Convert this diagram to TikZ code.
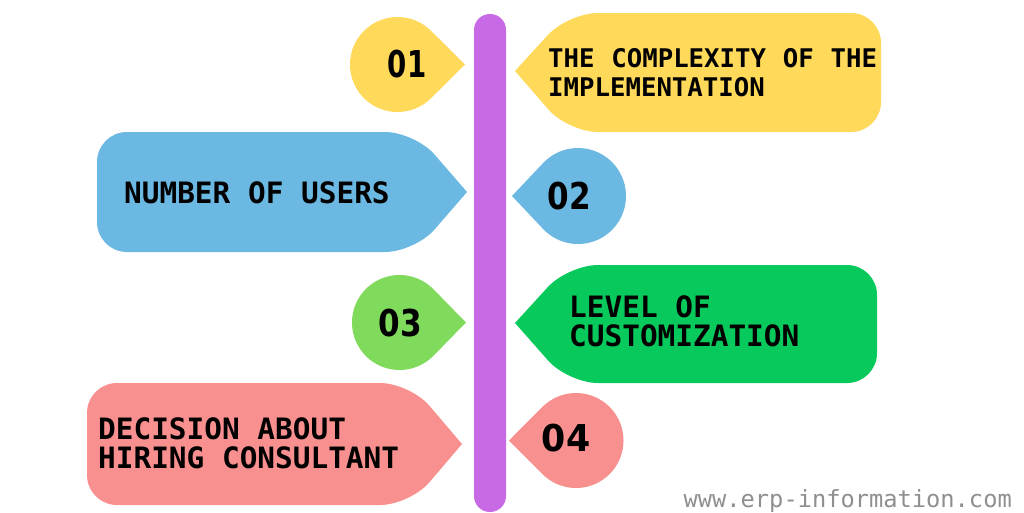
\documentclass[tikz,border=0pt]{standalone}
\usepackage{fontspec}
\setmainfont{DejaVu Sans Mono}
\newfontfamily\numfont{DejaVu Sans}
\definecolor{cyellow}{HTML}{FFD95A}
\definecolor{cblue}{HTML}{6BB9E3}
\definecolor{clgreen}{HTML}{80DB5C}
\definecolor{cgreen}{HTML}{08C95C}
\definecolor{cpink}{HTML}{F99090}
\definecolor{cpurple}{HTML}{C869E6}
\definecolor{cgray}{HTML}{8F8F8F}
\tikzset{
  lbl/.style={anchor=west,inner sep=0pt,align=left,text=black,font=\fontsize{29.4}{29}\selectfont\bfseries},
  lblsmall/.style={lbl,font=\fontsize{25.7}{29}\selectfont\bfseries},
  num/.style={inner sep=0pt,text=black,xscale=.84,font=\fontsize{37}{40}\selectfont\numfont\bfseries},
}
\newcommand\droplet[5]{%
  \pgfmathsetmacro\dropa{acos(#3/abs(#4))}%
  \pgfmathsetmacro\dropb{(#4>0)?0:180}%
  \fill[#5] (#1,#2) ++(\dropb+\dropa:#3) arc[start angle=\dropb+\dropa,end angle=\dropb+360-\dropa,radius=#3] -- (#1+#4,#2) -- cycle;}
\begin{document}
\begin{tikzpicture}[x=1pt,y=-1pt]
\useasboundingbox (0,0) rectangle (1024,512);
\fill[white] (0,0) rectangle (1024,512);
% central bar
\fill[cpurple,rounded corners=15.9pt] (474,14) rectangle (506,512);
% right flags
\fill[cyellow] (515,71) [rounded corners=30pt] -- (568,13) -- (881,13) -- (881,132) -- (568,132) [sharp corners] -- cycle;
\fill[cgreen] (515,323) [rounded corners=30pt] -- (568,265) -- (877,265) -- (877,383) -- (568,383) [sharp corners] -- cycle;
% left flags
\fill[cblue] (467,192) [rounded corners=30pt] -- (415,132) -- (97,132) -- (97,252) -- (415,252) [sharp corners] -- cycle;
\fill[cpink] (462,444) [rounded corners=30pt] -- (410,383) -- (87,383) -- (87,505) -- (410,505) [sharp corners] -- cycle;
% droplets
\droplet{397.5}{64.5}{47.5}{67.5}{cyellow}
\droplet{578}{196}{48}{-66}{cblue}
\droplet{399.5}{322.5}{47.5}{66.5}{clgreen}
\droplet{576}{440.5}{47.5}{-67}{cpink}
% numbers
\node[num,xscale=.89] (n1) at (407,64) {01};
\node[num] (n2) at (569,196) {02};
\node[num] (n3) at (400,323) {03};
\node[num,xscale=1.12] (n4) at (566,438) {04};
% labels
\node[lblsmall] (t1) at (548,73) {THE\hspace{1.3pt} COMPLEXITY\hspace{1.3pt} OF\hspace{1.3pt} THE\\IMPLEMENTATION};
\node[lbl] (t2) at (124,193) {NUMBER OF USERS};
\node[lbl] (t3) at (569,321) {LEVEL OF\\CUSTOMIZATION};
\node[lbl] (t4) at (98,443) {DECISION ABOUT\\HIRING CONSULTANT};
\node[anchor=east,inner sep=0pt,text=cgray,font=\fontsize{23.7}{26}\selectfont] (w) at (1012,501) {www.erp-information.com};
\end{tikzpicture}
\end{document}
